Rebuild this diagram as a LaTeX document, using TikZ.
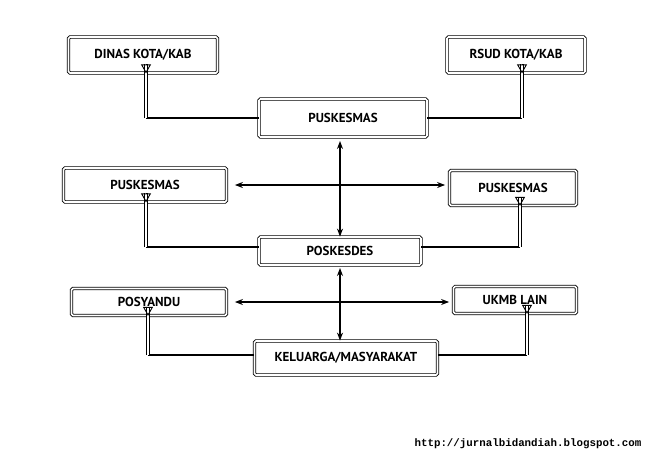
\documentclass[tikz,border=0pt]{standalone}
\usepackage{fontspec}
\setmainfont{PT Sans}
\newfontfamily\urlfont{Liberation Mono}
\usetikzlibrary{arrows.meta}
\begin{document}
\begin{tikzpicture}[x=1pt,y=-1pt,
  bx/.style={draw,double,double distance=1.6pt,line width=0.8pt,rounded corners=1.5pt,font=\bfseries\fontsize{13}{15}\selectfont},
  ln/.style={line width=1.2pt},
  up/.style={draw,double,double distance=1.6pt,line width=0.8pt},
  tp/.style={line width=0.9pt,-{Triangle[open,length=9pt,width=10pt]}},
  bi/.style={line width=1.2pt,{Stealth[length=8pt,width=6pt]}-{Stealth[length=8pt,width=6pt]}}]
\useasboundingbox (0,0) rectangle (647,461);
\node[bx,minimum width=149pt,minimum height=36pt] (dinas) at (143,55) {DINAS KOTA/KAB};
\node[bx,minimum width=138pt,minimum height=36pt] (rsud) at (516,55) {RSUD KOTA/KAB};
\node[bx,minimum width=168pt,minimum height=38pt] (pk) at (343,118) {PUSKESMAS};
\node[bx,minimum width=163pt,minimum height=34pt] (pkl) at (145,185) {PUSKESMAS};
\node[bx,minimum width=127pt,minimum height=35pt] (pkr) at (513,188) {PUSKESMAS};
\node[bx,minimum width=162pt,minimum height=28pt] (pd) at (340,251) {POSKESDES};
\node[bx,minimum width=155pt,minimum height=27pt] (py) at (149,302) {POSYANDU};
\node[bx,minimum width=123pt,minimum height=27pt] (uk) at (515,300) {UKMB LAIN};
\node[bx,minimum width=183pt,minimum height=34pt] (kel) at (346,358) {KELUARGA/MASYARAKAT};
\coordinate (c1) at (146,118); \coordinate (c2) at (522,118);
\coordinate (c3) at (146,247); \coordinate (c4) at (520,247);
\coordinate (c5) at (148,355); \coordinate (c6) at (527,355);
\draw[ln] (pk.west) -- (c1); \draw[up] (c1) -- ([yshift=9pt]c1|-dinas.south); \draw[tp] ([yshift=9pt]c1|-dinas.south) -- (c1|-dinas.south);
\draw[ln] (pk.east) -- (c2); \draw[up] (c2) -- ([yshift=9pt]c2|-rsud.south); \draw[tp] ([yshift=9pt]c2|-rsud.south) -- (c2|-rsud.south);
\draw[ln] (pd.west|-c3) -- (c3); \draw[up] (c3) -- ([yshift=9pt]c3|-pkl.south); \draw[tp] ([yshift=9pt]c3|-pkl.south) -- (c3|-pkl.south);
\draw[ln] (pd.east|-c4) -- (c4); \draw[up] (c4) -- ([yshift=9pt]c4|-pkr.south); \draw[tp] ([yshift=9pt]c4|-pkr.south) -- (c4|-pkr.south);
\draw[ln] (kel.west|-c5) -- (c5); \draw[up] (c5) -- ([yshift=9pt]c5|-py.south); \draw[tp] ([yshift=9pt]c5|-py.south) -- (c5|-py.south);
\draw[ln] (kel.east|-c6) -- (c6); \draw[up] (c6) -- ([yshift=9pt]c6|-uk.south); \draw[tp] ([yshift=9pt]c6|-uk.south) -- (c6|-uk.south);
\draw[bi] (340,141) coordinate (t1) -- (t1|-pd.north);
\draw[bi] ([xshift=8pt]pkl.east) -- ([xshift=-4pt]pkr.west|-pkl.east);
\draw[bi] (340,268) coordinate (t2) -- (t2|-kel.north);
\draw[bi] ([xshift=8pt]py.east) -- ([xshift=-4pt]uk.west|-py.east);
\node[font=\bfseries\urlfont\fontsize{10.8}{12}\selectfont] (url) at (528,444) {http://jurnalbidandiah.blogspot.com};
\end{tikzpicture}
\end{document}
